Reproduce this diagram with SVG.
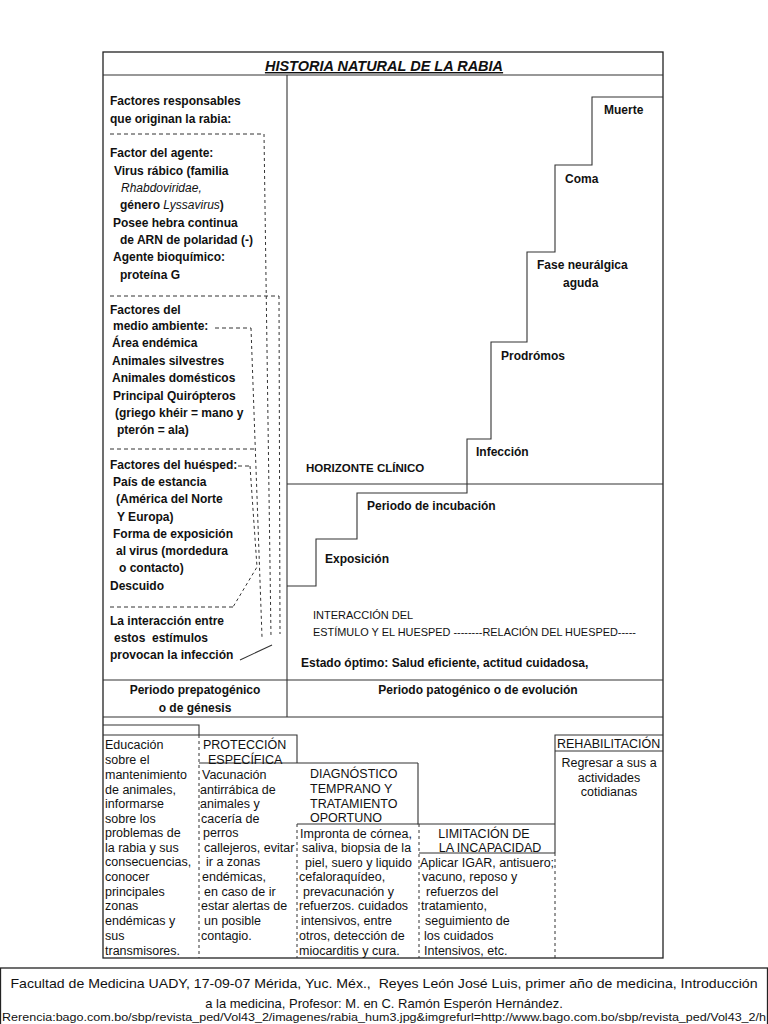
<svg xmlns="http://www.w3.org/2000/svg" width="768" height="1024" viewBox="0 0 768 1024">
<style>
.bg{fill:#ffffff}
.frame{fill:none;stroke:#222;stroke-width:1.3}
.ln{fill:none;stroke:#333;stroke-width:1.1}
.dash{fill:none;stroke:#333;stroke-width:1;stroke-dasharray:4 3}
.dot{fill:none;stroke:#333;stroke-width:1;stroke-dasharray:3 3}
.b{font-family:"Liberation Sans",Arial,sans-serif;font-weight:bold;font-size:12px;fill:#111}
.n{font-family:"Liberation Sans",Arial,sans-serif;font-size:11px;fill:#111}
.a{font-family:"Liberation Sans",Arial,sans-serif;font-size:12.5px;fill:#111}
.f{font-family:"Liberation Sans",Arial,sans-serif;font-size:13px;fill:#111}
.i{font-style:italic;font-weight:normal}
.c{text-anchor:middle}
.pre{white-space:pre}
.ttl{font-size:14.5px;font-style:italic;text-decoration:underline}
.hz{font-size:11.5px}
.ref{font-size:10.5px}
</style>
<rect class="bg" x="0" y="0" width="768" height="1024"/>

<g id="frame">
<rect class="frame" x="103" y="52" width="560" height="906"/>
<line class="ln" x1="103" y1="75" x2="663" y2="75"/>
<line class="ln" x1="287" y1="75" x2="287" y2="717"/>
<line class="ln" x1="287" y1="484" x2="663" y2="484"/>
<line class="ln" x1="103" y1="680" x2="663" y2="680"/>
<line class="ln" x1="103" y1="717" x2="663" y2="717"/>
</g>

<g id="title">
<text x="384" y="71" class="b c ttl">HISTORIA NATURAL DE LA RABIA</text>
</g>

<g id="factores">
<text class="b" x="110" y="105">Factores responsables</text>
<text class="b" x="110" y="123">que originan la rabia:</text>
</g>

<g id="agente">
<text class="b" x="110" y="157">Factor del agente:</text>
<text class="b" x="114" y="175">Virus rábico (familia</text>
<text class="b i" x="121" y="192">Rhabdoviridae,</text>
<text class="b" x="120" y="209">género <tspan class="i">Lyssavirus</tspan>)</text>
<text class="b" x="113" y="227">Posee hebra continua</text>
<text class="b" x="120" y="244">de ARN de polaridad (-)</text>
<text class="b" x="113" y="261">Agente bioquímico:</text>
<text class="b" x="120" y="279">proteína G</text>
</g>

<g id="medio">
<text class="b" x="110" y="314">Factores del</text>
<text class="b" x="113" y="330">medio ambiente:</text>
<text class="b" x="112" y="347">Área endémica</text>
<text class="b" x="112" y="365">Animales silvestres</text>
<text class="b" x="112" y="382">Animales domésticos</text>
<text class="b" x="113" y="400">Principal Quirópteros</text>
<text class="b" x="115" y="417">(griego khéir = mano y</text>
<text class="b" x="117" y="434">pterón = ala)</text>
</g>

<g id="huesped">
<text class="b" x="110" y="469">Factores del huésped:</text>
<text class="b" x="113" y="486">País de estancia</text>
<text class="b" x="116" y="503">(América del Norte</text>
<text class="b" x="117" y="521">Y Europa)</text>
<text class="b" x="113" y="538">Forma de exposición</text>
<text class="b" x="116" y="555">al virus (mordedura</text>
<text class="b" x="119" y="572">o contacto)</text>
<text class="b" x="110" y="590">Descuido</text>
</g>

<g id="interaccion">
<text class="b" x="110" y="625">La interacción entre</text>
<text class="b pre" x="114" y="642">estos  estímulos</text>
<text class="b" x="110" y="659">provocan la infección</text>
</g>

<g id="connectors">
<line class="dash" x1="110" y1="134" x2="264" y2="134"/>
<line class="dot" x1="264" y1="134" x2="271" y2="637"/>
<line class="dash" x1="110" y1="296" x2="279" y2="296"/>
<line class="dot" x1="279" y1="296" x2="280" y2="634"/>
<line class="dash" x1="215" y1="328" x2="251" y2="328"/>
<line class="dot" x1="251" y1="328" x2="262" y2="637"/>
<line class="dash" x1="110" y1="449" x2="256" y2="449"/>
<line class="dash" x1="238" y1="466" x2="250" y2="466"/>
<polyline class="dot" points="250,466 257,567 233,607"/>
<line class="dash" x1="110" y1="607" x2="233" y2="607"/>
<line class="ln" x1="240" y1="660" x2="272" y2="645"/>
</g>

<g id="escalera">
<path class="ln" d="M287,586 H316 V539 H357 V493 H467 V439 H491 V342 H527 V252 H555 V165 H592 V97 H663"/>
</g>

<g id="etapas">
<text class="b" x="604" y="114">Muerte</text>
<text class="b" x="565" y="183">Coma</text>
<text class="b" x="537" y="269">Fase neurálgica</text>
<text class="b" x="563" y="287">aguda</text>
<text class="b" x="501" y="360">Prodrómos</text>
<text class="b" x="476" y="456">Infección</text>
<text class="b hz" x="306" y="472">HORIZONTE CLÍNICO</text>
<text class="b" x="367" y="510">Periodo de incubación</text>
<text class="b" x="325" y="563">Exposición</text>
<text class="n" x="313" y="619">INTERACCIÓN DEL</text>
<text class="n" x="313" y="636" textLength="323" lengthAdjust="spacingAndGlyphs">ESTÍMULO Y EL HUESPED --------RELACIÓN DEL HUESPED-----</text>
<text class="b" x="301" y="667">Estado óptimo: Salud eficiente, actitud cuidadosa,</text>
</g>

<g id="periodos">
<text class="b c" x="195" y="694">Periodo prepatogénico</text>
<text class="b c" x="195" y="712">o de génesis</text>
<text class="b c" x="478" y="694">Periodo patogénico o de evolución</text>
</g>

<g id="prevencion-lineas">
<polyline class="ln" points="103,725 199,725 199,735"/>
<polyline class="ln" points="103,735 297,735 297,763"/>
<line class="ln" x1="199" y1="763" x2="418" y2="763"/>
<polyline class="ln" points="418,763 418,824 555,824"/>
<line class="ln" x1="297" y1="824" x2="418" y2="824"/>
<line class="ln" x1="419" y1="853" x2="555" y2="853"/>
<polyline class="ln" points="555,853 555,735 663,735"/>
<line class="ln" x1="555" y1="751" x2="663" y2="751"/>
<line class="dot" x1="199" y1="735" x2="199" y2="958"/>
<line class="dot" x1="297" y1="824" x2="297" y2="958"/>
<line class="dot" x1="419" y1="824" x2="419" y2="958"/>
<line class="dot" x1="555" y1="853" x2="555" y2="958"/>
</g>

<g id="educacion">
<text class="a" x="105" y="749">Educación</text>
<text class="a" x="105" y="764">sobre el</text>
<text class="a" x="105" y="779">mantenimiento</text>
<text class="a" x="105" y="794">de animales,</text>
<text class="a" x="105" y="808">informarse</text>
<text class="a" x="105" y="823">sobre los</text>
<text class="a" x="105" y="837">problemas de</text>
<text class="a" x="105" y="852">la rabia y sus</text>
<text class="a" x="105" y="866">consecuencias,</text>
<text class="a" x="105" y="881">conocer</text>
<text class="a" x="105" y="896">principales</text>
<text class="a" x="105" y="910">zonas</text>
<text class="a" x="105" y="925">endémicas y</text>
<text class="a" x="105" y="940">sus</text>
<text class="a" x="105" y="955">transmisores.</text>
</g>

<g id="proteccion">
<text class="a" x="203" y="749">PROTECCIÓN</text>
<text class="a" x="208" y="764">ESPECÍFICA</text>
<text class="a" x="202" y="779">Vacunación</text>
<text class="a" x="200" y="794">antirrábica de</text>
<text class="a" x="200" y="808">animales y</text>
<text class="a" x="201" y="823">cacería de</text>
<text class="a" x="203" y="837">perros</text>
<text class="a" x="204" y="852">callejeros, evitar</text>
<text class="a" x="206" y="866">ir a zonas</text>
<text class="a" x="202" y="881">endémicas,</text>
<text class="a" x="204" y="896">en caso de ir</text>
<text class="a" x="201" y="910">estar alertas de</text>
<text class="a" x="204" y="925">un posible</text>
<text class="a" x="201" y="940">contagio.</text>
</g>

<g id="diagnostico">
<text class="a" x="310" y="778">DIAGNÓSTICO</text>
<text class="a" x="310" y="793">TEMPRANO Y</text>
<text class="a" x="310" y="808">TRATAMIENTO</text>
<text class="a" x="310" y="822">OPORTUNO</text>
<text class="a" x="300" y="838">Impronta de córnea,</text>
<text class="a" x="302" y="852">saliva, biopsia de la</text>
<text class="a" x="305" y="867">piel, suero y liquido</text>
<text class="a" x="299" y="881">cefaloraquídeo,</text>
<text class="a" x="303" y="896">prevacunación y</text>
<text class="a" x="299" y="910">refuerzos. cuidados</text>
<text class="a" x="301" y="925">intensivos, entre</text>
<text class="a" x="299" y="940">otros, detección de</text>
<text class="a" x="299" y="955">miocarditis y cura.</text>
</g>

<g id="limitacion">
<text class="a c" x="484" y="838">LIMITACIÓN DE</text>
<text class="a c" x="490" y="852">LA INCAPACIDAD</text>
<text class="a" x="420" y="867">Aplicar IGAR, antisuero;</text>
<text class="a" x="422" y="881">vacuno, reposo y</text>
<text class="a" x="426" y="896">refuerzos del</text>
<text class="a" x="421" y="910">tratamiento,</text>
<text class="a" x="425" y="925">seguimiento de</text>
<text class="a" x="424" y="940">los cuidados</text>
<text class="a" x="424" y="955">Intensivos, etc.</text>
</g>

<g id="rehabilitacion">
<text class="a" x="557" y="748">REHABILITACIÓN</text>
<text class="a c" x="609" y="767">Regresar a sus a</text>
<text class="a c" x="609" y="782">actividades</text>
<text class="a c" x="609" y="796">cotidianas</text>
</g>

<g id="footer">
<rect class="frame" x="0.5" y="968" width="767" height="60"/>
<text class="f c pre" x="384" y="988" textLength="747" lengthAdjust="spacingAndGlyphs">Facultad de Medicina UADY, 17-09-07 Mérida, Yuc. Méx.,  Reyes León José Luis, primer año de medicina, Introducción</text>
<text class="f c" x="384" y="1008">a la medicina, Profesor: M. en C. Ramón Esperón Hernández.</text>
<text class="n ref" x="2" y="1021" textLength="764" lengthAdjust="spacingAndGlyphs">Rerencia:bago.com.bo/sbp/revista_ped/Vol43_2/imagenes/rabia_hum3.jpg&amp;imgrefurl=http://www.bago.com.bo/sbp/revista_ped/Vol43_2/h</text>
</g>
</svg>
